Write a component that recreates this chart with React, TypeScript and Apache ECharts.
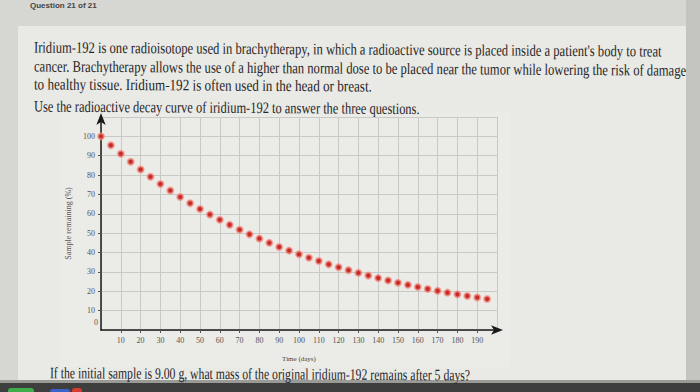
import React, { useEffect, useRef } from "react";
import * as echarts from "echarts";

const days: number[] = [0, 5, 10, 15, 20, 25, 30, 35, 40, 45, 50, 55, 60, 65, 70, 75, 80, 85, 90, 95, 100, 105, 110, 115, 120, 125, 130, 135, 140, 145, 150, 155, 160, 165, 170, 175, 180, 185, 190, 195];
const remaining: number[] = [100, 95.4, 91.0, 86.9, 82.9, 79.1, 75.4, 72.0, 68.7, 65.5, 62.5, 59.6, 56.9, 54.3, 51.8, 49.4, 47.2, 45.0, 42.9, 41.0, 39.1, 37.3, 35.6, 33.9, 32.4, 30.9, 29.5, 28.1, 26.8, 25.6, 24.4, 23.3, 22.2, 21.2, 20.2, 19.3, 18.4, 17.6, 16.8, 16.0];

const paragraphLines: string[] = [
  "Iridium-192 is one radioisotope used in brachytherapy, in which a radioactive source is placed inside a patient's body to treat",
  "cancer. Brachytherapy allows the use of a higher than normal dose to be placed near the tumor while lowering the risk of damage",
  "to healthy tissue. Iridium-192 is often used in the head or breast.",
  "Use the radioactive decay curve of iridium-192 to answer the three questions.",
  "If the initial sample is 9.00 g, what mass of the original iridium-192 remains after 5 days?",
];
const xAxisName = "Time (days)";
const yAxisName = "Sample remaining (%)";

const SERIF = "'Liberation Serif', 'DejaVu Serif', serif";

function measure(text: string, size: number): number {
  const c = document.createElement("canvas");
  const ctx = c.getContext("2d");
  if (!ctx) return text.length * size * 0.45;
  ctx.font = `${size}px ${SERIF}`;
  return ctx.measureText(text).width;
}

export default function App() {
  const ref = useRef<HTMLDivElement>(null);
  useEffect(() => {
    if (!ref.current) return;
    const chart = echarts.init(ref.current, undefined, { renderer: "svg" });

    const lineLayout = [
      { x: 34, y: 47, w: 628 },
      { x: 34, y: 66, w: 652 },
      { x: 34, y: 84, w: 338 },
      { x: 34, y: 106, w: 386 },
      { x: 50, y: 373, w: 420 },
    ];
    const fs = 16;
    const textEls = paragraphLines.map((t, i) => {
      const L = lineLayout[i];
      const sx = L.w / measure(t, fs);
      return {
        type: "text",
        x: L.x,
        y: L.y,
        scaleX: sx,
        rotation: -0.006,
        style: {
          text: t,
          fill: "#262626",
          font: `${fs}px ${SERIF}`,
          textVerticalAlign: "middle",
        },
      };
    });

    chart.setOption({
      animation: false,
      backgroundColor: "#d8d8d4",
      graphic: [
        { type: "rect", shape: { x: 0, y: 0, width: 700, height: 392 }, style: { fill: "#d6d6d2" }, z: -10 },
        { type: "rect", shape: { x: 18, y: 26, width: 668, height: 354 }, style: { fill: "#e9e9e5" }, z: -9 },
        { type: "rect", shape: { x: 60, y: 112, width: 450, height: 255 }, style: { fill: "#ebebe8" }, z: -8 },
        { type: "rect", shape: { x: 686, y: 0, width: 14, height: 392 }, style: { fill: "#c4c4c0" }, z: -9 },
        { type: "rect", shape: { x: 0, y: 380, width: 700, height: 3 }, style: { fill: "#9a9a96" }, z: -9 },
        { type: "rect", shape: { x: 0, y: 383, width: 700, height: 9 }, style: { fill: "#3e3e3e" }, z: -9 },
        { type: "rect", shape: { x: 8, y: 388, width: 26, height: 6, r: 3 }, style: { fill: "#3fae4a" }, z: -8 },
        { type: "rect", shape: { x: 50, y: 389, width: 20, height: 6, r: 3 }, style: { fill: "#3a62c8" }, z: -8 },
        { type: "rect", shape: { x: 72, y: 388, width: 10, height: 6, r: 3 }, style: { fill: "#d83a30" }, z: -8 },
        {
          type: "text",
          x: 30,
          y: 1,
          style: { text: "Question 21 of 21", fill: "#444", font: `bold 8px 'Liberation Sans', sans-serif` },
        },
        ...textEls,
        {
          type: "text",
          x: 96,
          y: 322,
          style: { text: "0", fill: "#555", font: `8px ${SERIF}`, textAlign: "center", textVerticalAlign: "middle" },
        },
      ],
      grid: { left: 101, right: 203, top: 117, bottom: 62 },
      xAxis: {
        type: "value",
        min: 0,
        max: 200,
        interval: 10,
        name: xAxisName,
        nameLocation: "middle",
        nameGap: 25,
        nameTextStyle: { fontFamily: SERIF, fontSize: 7, color: "#444" },
        axisLine: { show: true, symbol: ["none", "arrow"], symbolSize: [7, 12], symbolOffset: [0, 6], lineStyle: { color: "#1a1a1a", width: 1.5 } },
        axisTick: { show: true, length: 3, lineStyle: { color: "#555" } },
        axisLabel: { showMinLabel: false, showMaxLabel: false, margin: 6, fontFamily: SERIF, fontSize: 8, color: "#555" },
        splitLine: { show: true, lineStyle: { color: "#c9c9c5", width: 1 } },
      },
      yAxis: {
        type: "value",
        min: 0,
        max: 110,
        interval: 10,
        name: yAxisName,
        nameLocation: "middle",
        nameGap: 26,
        nameTextStyle: { fontFamily: SERIF, fontSize: 8, color: "#555" },
        axisLine: { show: true, symbol: ["none", "arrow"], symbolSize: [7, 12], symbolOffset: [0, 4], lineStyle: { color: "#1a1a1a", width: 1.5 } },
        axisTick: { show: true, length: 3, lineStyle: { color: "#555" } },
        axisLabel: { showMinLabel: false, showMaxLabel: false, margin: 6, fontFamily: SERIF, fontSize: 8, color: "#555" },
        splitLine: { show: true, lineStyle: { color: "#c9c9c5", width: 1 } },
      },
      series: [
        {
          type: "scatter",
          data: days.map((d, i) => [d, remaining[i]]),
          symbol: "circle",
          symbolSize: 6,
          itemStyle: { color: "#c42c27", borderColor: "rgba(244,140,130,0.7)", borderWidth: 2, opacity: 1 },
          z: 5,
        },
      ],
    });
    return () => chart.dispose();
  }, []);
  return <div ref={ref} style={{ width: 700, height: 392, position: "absolute", left: 0, top: 0 }} />;
}
